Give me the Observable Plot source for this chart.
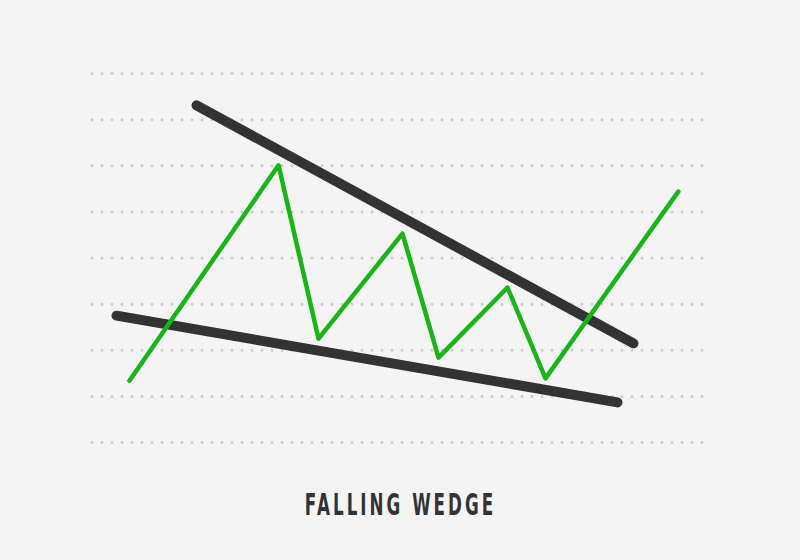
<!DOCTYPE html>
<html>
<head>
<meta charset="utf-8">
<script src="https://cdn.jsdelivr.net/npm/d3@7"></script>
<script src="https://cdn.jsdelivr.net/npm/@observablehq/plot@0.6"></script>
<style>
  html, body { margin: 0; padding: 0; background: #f4f4f4; }
  #wrap { position: relative; width: 800px; height: 560px; background: #f4f4f4; overflow: hidden; }
  #chart svg { display: block; }
  #title {
    position: absolute; left: 0; width: 800px; top: 484px; text-align: center;
    font-family: "Liberation Sans Narrow", "DejaVu Sans Condensed", sans-serif;
    font-weight: bold; font-size: 31px; letter-spacing: 5px; color: #333333;
    line-height: 40px;
  }
  #title span { display: inline-block; transform: scaleX(0.6); transform-origin: center; }
</style>
</head>
<body>
<div id="wrap">
  <div id="chart"></div>
  <div id="title"><span>FALLING WEDGE</span></div>
</div>
<script>
// grid levels (price levels)
const gridLevels = [1, 2, 3, 4, 5, 6, 7, 8, 9];
// price path (time, price)
const priceT = [3.66, 18.42, 22.38, 30.69, 34.26, 41.09, 44.85, 58.0];
const priceV = [2.34, 7.01, 3.25, 5.53, 2.84, 4.36, 2.39, 6.44];
// upper resistance trendline
const upperT = [10.3, 53.56];
const upperV = [8.31, 3.15];
// lower support trendline
const lowerT = [2.38, 51.98];
const lowerV = [3.75, 1.87];

const price = priceT.map((t, i) => ({t, v: priceV[i]}));
const upper = upperT.map((t, i) => ({t, v: upperV[i]}));
const lower = lowerT.map((t, i) => ({t, v: lowerV[i]}));

const chart = Plot.plot({
  width: 800,
  height: 480,
  margin: 0,
  style: {background: "transparent"},
  x: {domain: [0, 60], range: [92, 698], axis: null},
  y: {domain: [1, 9], range: [442, 73], axis: null},
  marks: [
    Plot.ruleY(gridLevels, {x1: 0, x2: 60.7, stroke: "#cccccc", strokeWidth: 3, strokeDasharray: "0 10", strokeLinecap: "round"}),
    Plot.line(upper, {x: "t", y: "v", stroke: "#333333", strokeWidth: 10, strokeLinecap: "round"}),
    Plot.line(lower, {x: "t", y: "v", stroke: "#333333", strokeWidth: 10, strokeLinecap: "round"}),
    Plot.line(price, {x: "t", y: "v", stroke: "#18b418", strokeWidth: 4.5, strokeLinecap: "round", strokeLinejoin: "round", curve: "linear"})
  ]
});
document.getElementById("chart").appendChild(chart);
</script>
</body>
</html>
